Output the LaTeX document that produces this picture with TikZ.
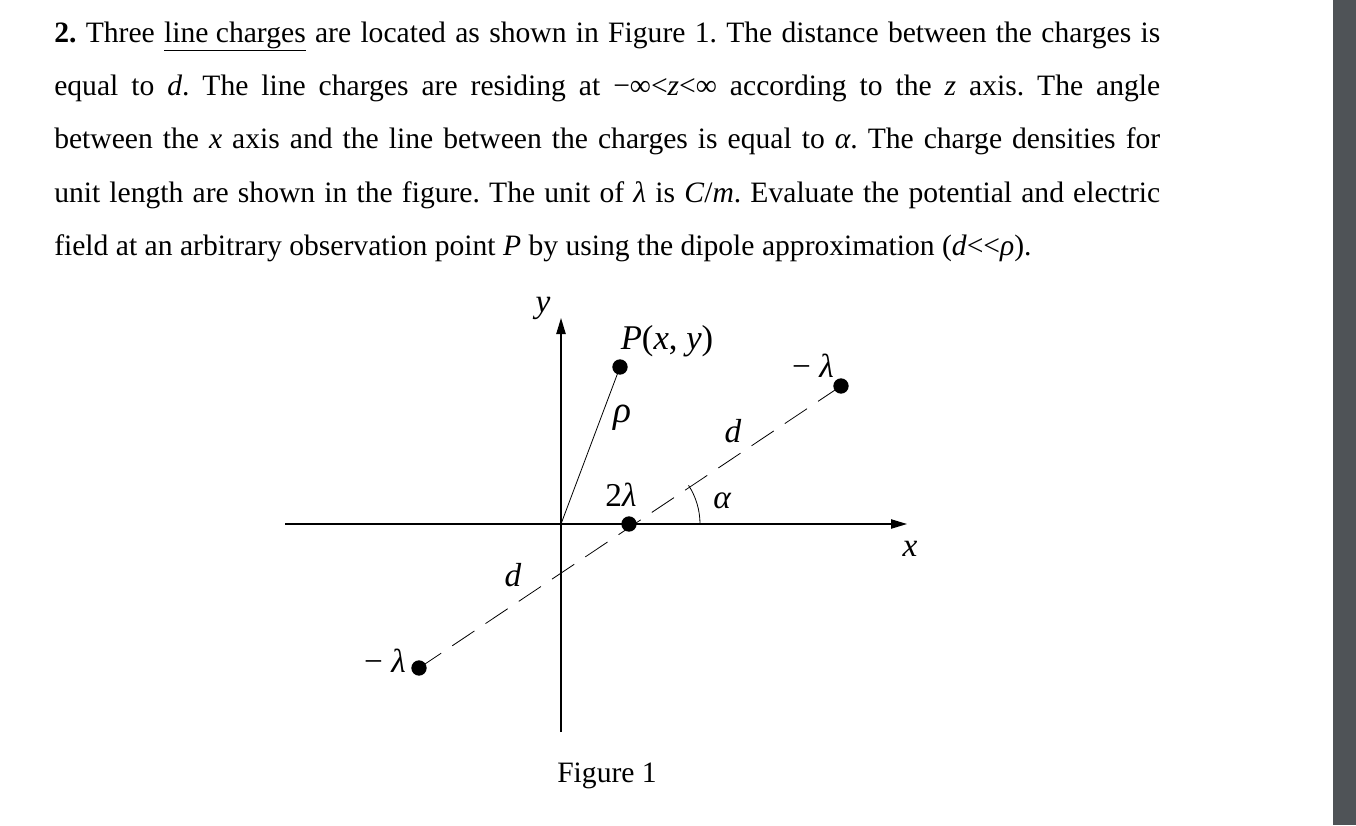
\documentclass[tikz,border=0pt]{standalone}
\usepackage{fontspec}
\setmainfont{Liberation Serif}[Ligatures=NoCommon]
\usetikzlibrary{arrows.meta}
\frenchspacing
\begin{document}
\begin{tikzpicture}[x=0.75pt,y=-0.75pt,
  txt/.style={anchor=base west,inner sep=0,font=\fontsize{22.2}{24}\selectfont},
  lbl/.style={inner sep=0,font=\fontsize{25}{28}\selectfont\itshape},
  dot/.style={circle,fill=black,inner sep=0,minimum size=11.5pt},
  ax/.style={line width=0.9pt,-{Triangle[length=12pt,width=7pt]}}]
\useasboundingbox[fill=white] (0,0) rectangle (1356,825);
\fill[fill={rgb,255:red,79;green,83;blue,87}] (1333,0) rectangle (1356,825);
\node[txt] (l1) at (54,42) {\makebox[829.5pt][s]{\textbf{2.} Three \underline{line charges} are located as shown in Figure 1. The distance between the charges is}};
\node[txt] (l2) at (54,95) {\makebox[829.5pt][s]{equal to \textit{d}. The line charges are residing at −∞<\textit{z}<∞ according to the \textit{z} axis. The angle}};
\node[txt] (l3) at (54,148) {\makebox[829.5pt][s]{between the \textit{x} axis and the line between the charges is equal to \textit{α}. The charge densities for}};
\node[txt] (l4) at (54,202) {\makebox[829.5pt][s]{unit length are shown in the figure. The unit of \textit{λ} is \textit{C}/\textit{m}. Evaluate the potential and electric}};
\node[txt] (l5) at (54,255) {field at an arbitrary observation point \textit{P} by using the dipole approximation (\textit{d}{<}{<}\textit{ρ}).};
% axes
\coordinate (O) at (561,524);
\coordinate (yb) at (561,732);
\coordinate (yt) at (561,318);
\coordinate (xl) at (285,524);
\coordinate (xr) at (907,524);
\draw[ax] (yb) -- (yt);
\draw[ax] (xl) -- (xr);
\node[lbl] (ylab) at (543,308) {y};
\node[lbl] (xlab) at (910,549) {x};
% charges
\node[dot] (c0) at (629,524) {};
\node[dot] (c1) at (841,386) {};
\node[dot] (c2) at (419,668) {};
\node[dot] (P) at (620,367) {};
\draw[dash pattern=on 20pt off 10pt,line width=0.6pt] (c2.center) -- (c1.center);
\draw[line width=0.6pt] (O) -- (P.center);
\draw[line width=0.6pt] (c0.center) ++(71,0) arc[start angle=0,end angle=-33,radius=71];
\node[lbl,font=\fontsize{26}{28}\selectfont] (Plab) at (667,341) {\textit{P}\/(\textit{x}, \textit{y})};
\node[lbl,font=\fontsize{28}{28}\selectfont\itshape] (rho) at (622,418) {ρ};
\node[lbl] (d1) at (733,431) {d};
\node[lbl] (d2) at (513,575) {d};
\node[lbl,font=\fontsize{25}{28}\selectfont] (l2lab) at (621,495) {2\textit{λ}};
\node[lbl] (alab) at (722,501) {α};
\node[lbl,font=\fontsize{25}{28}\selectfont] (m1) at (813,366) {− \textit{λ}};
\node[lbl,font=\fontsize{25}{28}\selectfont] (m2) at (385,661) {− \textit{λ}};
\node[txt,anchor=center] (fig) at (607,776) {Figure 1};
\end{tikzpicture}
\end{document}
